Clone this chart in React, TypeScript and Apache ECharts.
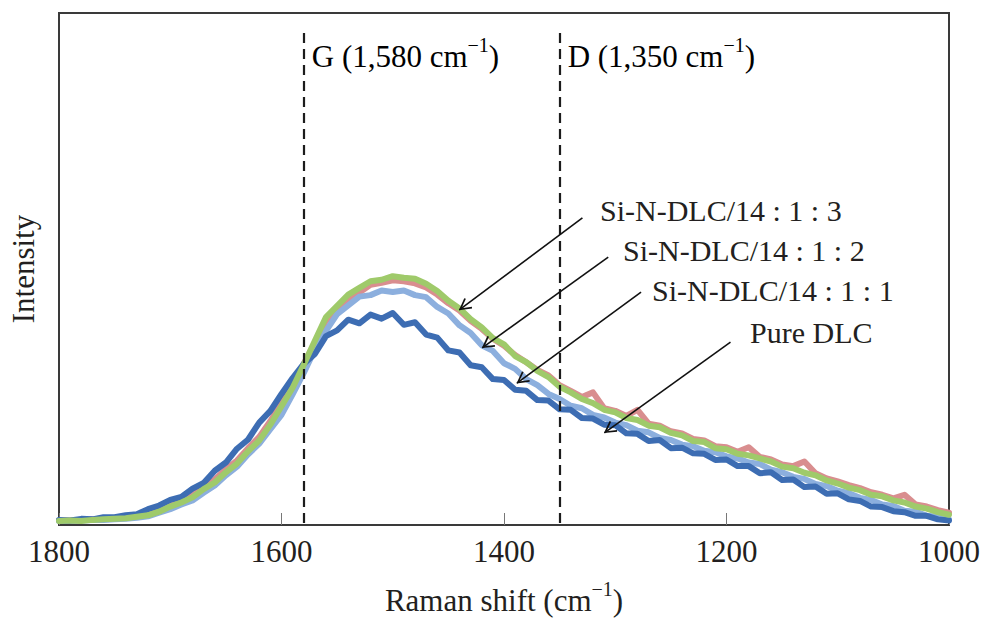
import React, { useEffect, useRef } from "react";
import * as echarts from "echarts";

// Raman shift sampling (cm^-1), plotted on a reversed axis
const ramanShift = [
  1800, 1790, 1780, 1770, 1760, 1750, 1740, 1730, 1720, 1710,
  1700, 1690, 1680, 1670, 1660, 1650, 1640, 1630, 1620, 1610,
  1600, 1590, 1580, 1570, 1560, 1550, 1540, 1530, 1520, 1510,
  1500, 1490, 1480, 1470, 1460, 1450, 1440, 1430, 1420, 1410,
  1400, 1390, 1380, 1370, 1360, 1350, 1340, 1330, 1320, 1310,
  1300, 1290, 1280, 1270, 1260, 1250, 1240, 1230, 1220, 1210,
  1200, 1190, 1180, 1170, 1160, 1150, 1140, 1130, 1120, 1110,
  1100, 1090, 1080, 1070, 1060, 1050, 1040, 1030, 1020, 1010,
  1000,
];

// Intensity (arbitrary units) for each film
const pureDlc = [
  1.0, 0.9, 1.2, 1.1, 1.5, 1.5, 1.9, 2.1, 3.1, 3.8,
  4.9, 5.5, 7.1, 8.2, 10.6, 12.2, 14.9, 16.7, 20.0, 22.3,
  25.6, 28.7, 31.5, 33.4, 36.9, 38.0, 40.1, 39.4, 41.1, 40.3,
  41.4, 39.1, 39.6, 37.2, 36.6, 34.1, 33.7, 31.2, 30.8, 28.5,
  28.3, 26.4, 26.2, 24.4, 24.3, 22.6, 22.5, 20.9, 20.8, 19.6,
  19.5, 17.9, 17.8, 16.4, 16.6, 15.0, 15.1, 14.0, 13.9, 12.7,
  12.8, 11.5, 11.5, 10.1, 10.3, 8.8, 8.9, 7.4, 7.5, 6.1,
  6.2, 5.0, 4.7, 3.6, 3.5, 2.7, 2.5, 1.8, 1.8, 1.1,
  0.9,
];

const siNDlc111 = [
  0.8, 0.8, 0.9, 1.0, 1.0, 1.1, 1.2, 1.4, 1.7, 2.4,
  3.1, 4.0, 4.8, 6.3, 7.7, 9.7, 11.4, 13.8, 15.9, 18.7,
  21.5, 25.5, 29.7, 34.3, 37.9, 41.2, 42.9, 44.6, 44.9, 45.8,
  45.5, 45.8, 44.9, 44.5, 42.6, 41.3, 39.0, 37.5, 35.1, 34.0,
  31.6, 30.5, 28.5, 27.3, 25.6, 24.6, 23.3, 22.8, 21.5, 21.0,
  20.0, 19.5, 18.4, 18.1, 17.0, 16.6, 15.7, 15.4, 14.5, 14.2,
  13.4, 13.0, 12.2, 11.9, 10.8, 10.3, 9.4, 9.0, 8.0, 7.6,
  6.7, 6.2, 5.3, 4.9, 4.0, 3.7, 2.8, 2.6, 1.8, 1.6,
  1.1,
];

const siNDlc112 = [
  0.9, 0.9, 1.0, 1.1, 1.3, 1.4, 1.6, 1.9, 2.3, 3.0,
  3.9, 4.9, 5.9, 7.5, 8.9, 10.9, 12.6, 15.0, 17.2, 20.3,
  23.8, 27.6, 31.5, 35.6, 39.9, 41.8, 44.0, 45.4, 46.9, 47.3,
  47.8, 47.6, 47.2, 46.4, 45.0, 43.3, 41.9, 39.9, 38.3, 36.4,
  35.0, 33.2, 31.8, 30.3, 29.2, 27.3, 26.2, 25.0, 25.9, 22.8,
  22.3, 21.3, 22.5, 19.8, 19.4, 18.3, 17.9, 16.8, 16.5, 15.4,
  15.2, 14.3, 15.2, 13.3, 12.8, 11.8, 11.5, 12.4, 10.1, 9.1,
  8.5, 7.8, 7.2, 6.4, 5.9, 5.2, 5.9, 4.0, 3.6, 2.9,
  2.4,
];

const siNDlc113 = [
  0.8, 0.9, 0.8, 1.0, 1.1, 1.2, 1.3, 1.6, 1.9, 2.6,
  3.6, 4.4, 5.4, 7.0, 8.3, 10.3, 12.0, 14.4, 16.5, 19.6,
  23.2, 26.8, 31.3, 36.0, 40.6, 42.8, 45.0, 46.3, 47.6, 47.9,
  48.6, 48.3, 48.1, 47.1, 45.7, 43.8, 42.3, 40.2, 38.6, 36.5,
  35.3, 33.0, 31.8, 30.1, 28.9, 27.0, 25.9, 24.6, 23.8, 22.5,
  22.0, 20.9, 20.5, 19.4, 19.1, 18.0, 17.5, 16.4, 16.2, 15.0,
  14.8, 13.9, 13.6, 13.0, 12.4, 11.4, 11.1, 10.2, 9.7, 8.7,
  8.1, 7.3, 6.8, 5.9, 5.6, 4.8, 4.4, 3.6, 3.2, 2.5,
  2.0,
];

// Reference band positions (cm^-1)
const bandNames = ["G", "D"];
const bandShifts = [1580, 1350];
const bandLabels = ["1,580", "1,350"];

// Callouts: label, arrow tail and arrow head in data coordinates
const calloutLabels = ["Si-N-DLC/14 : 1 : 3", "Si-N-DLC/14 : 1 : 2", "Si-N-DLC/14 : 1 : 1", "Pure DLC"];
const calloutTail = [[1329.5, 60.0], [1306.3, 52.3], [1276.8, 45.5], [1196.4, 35.7]];
const calloutHead = [[1440.2, 42.0], [1419.6, 34.6], [1388.4, 27.7], [1309.8, 18.0]];

const FONT = '"Liberation Serif", "Times New Roman", serif';
const INK = "#231f20";

// Open "V" arrowhead; the tiny second sub-path centres the tip on the end point
const CHEVRON =
  "path://M0,0L6.5,11L5,11.9L0,3.2L-5,11.9L-6.5,11ZM-0.01,-11L0.01,-11L0,-10.99Z";

// Rich-text styles: t = normal text, s = raised superscript
const supRich = (size: number) => ({
  t: { fontFamily: FONT, fontSize: size, color: INK, lineHeight: size },
  s: {
    fontFamily: FONT,
    fontSize: Math.round(size * 0.64),
    color: INK,
    height: 8,
    lineHeight: 8,
    verticalAlign: "top",
  },
});

const pairs = (ys: number[]) => ramanShift.map((x, i) => [x, ys[i]]);

export default function App() {
  const ref = useRef<HTMLDivElement>(null);

  useEffect(() => {
    if (!ref.current) return;
    const chart = echarts.init(ref.current, null, { renderer: "svg" });

    const lineSeries = (name: string, data: number[], color: string) => ({
      name,
      type: "line",
      data: pairs(data),
      symbol: "none",
      smooth: false,
      lineStyle: { color, width: 6, join: "round", cap: "round" },
      itemStyle: { color },
      emphasis: { disabled: true },
      silent: true,
    });

    const s112 = lineSeries("Si-N-DLC/14:1:2", siNDlc112, "#d98e8f");
    const s111 = lineSeries("Si-N-DLC/14:1:1", siNDlc111, "#8cafde");
    const sPure = lineSeries("Pure DLC", pureDlc, "#3d6db3");
    const s113: any = lineSeries("Si-N-DLC/14:1:3", siNDlc113, "#9fca6a");

    (sPure as any).markLine = {
      silent: true,
      symbol: ["none", "none"],
      label: { show: false },
      lineStyle: { color: "#1c1c1c", width: 2.2, type: [10, 6] },
      data: bandShifts.map((x) => [{ coord: [x, 0.4] }, { coord: [x, 96.7] }]),
    };

    s113.markLine = {
      silent: true,
      symbol: ["none", CHEVRON],
      symbolSize: [13, 24],
      label: { show: false },
      lineStyle: { color: "#111111", width: 1.6, type: "solid" },
      data: calloutLabels.map((_, i) => [
        { coord: calloutTail[i] },
        { coord: calloutHead[i] },
      ]),
    };

    chart.setOption({
      animation: false,
      backgroundColor: "#ffffff",
      grid: {
        left: 59,
        right: 28,
        top: 13,
        bottom: 97,
        show: true,
        borderColor: "#3a3a3a",
        borderWidth: 2,
        backgroundColor: "transparent",
      },
      xAxis: {
        type: "value",
        inverse: true,
        min: 1000,
        max: 1800,
        interval: 200,
        name: "{t|Raman shift (cm}{s|−1}{t|)}",
        nameLocation: "middle",
        nameGap: 60,
        nameTextStyle: { rich: supRich(31) },
        axisLine: { show: true, lineStyle: { color: "#3a3a3a", width: 2 } },
        axisTick: { show: true, inside: true, length: 12, lineStyle: { color: "#777777", width: 1 } },
        axisLabel: {
          fontFamily: FONT,
          fontSize: 31,
          color: INK,
          margin: 11,
          formatter: (v: number) => String(v),
        },
        splitLine: { show: false },
      },
      yAxis: {
        type: "value",
        min: 0,
        max: 100,
        name: "Intensity",
        nameLocation: "middle",
        nameGap: 20,
        nameTextStyle: { fontFamily: FONT, fontSize: 31, color: INK },
        axisLine: { show: false },
        axisTick: { show: false },
        axisLabel: { show: false },
        splitLine: { show: false },
      },
      series: [s112, s111, sPure, s113],
    });

    const bandText = bandNames.map((n, i) => {
      const [px] = chart.convertToPixel({ gridIndex: 0 }, [bandShifts[i], 0]) as number[];
      return {
        type: "text",
        x: px + 8,
        y: 56,
        silent: true,
        style: {
          text: `{t|${n} (${bandLabels[i]} cm}{s|−1}{t|)}`,
          rich: supRich(31),
          align: "left",
          verticalAlign: "middle",
        },
      };
    });

    const calloutPos = [
      [600, 210],
      [623, 250],
      [652, 290],
      [750, 332],
    ];
    const calloutText = calloutLabels.map((t, i) => ({
      type: "text",
      x: calloutPos[i][0],
      y: calloutPos[i][1],
      silent: true,
      style: {
        text: t,
        fontFamily: FONT,
        fontSize: 30,
        fill: INK,
        align: "left",
        verticalAlign: "middle",
      },
    }));

    chart.setOption({ graphic: [...bandText, ...calloutText] });

    return () => chart.dispose();
  }, []);

  return (
    <div
      ref={ref}
      style={{ position: "fixed", left: 0, top: 0, width: 983, height: 622, background: "#fff" }}
    />
  );
}
